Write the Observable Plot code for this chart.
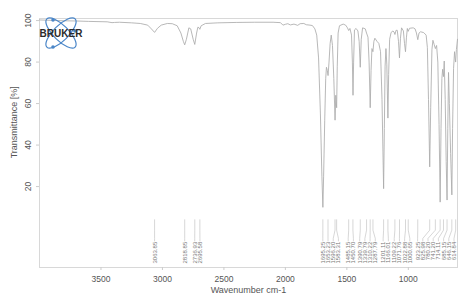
<!DOCTYPE html>
<html>
<head>
<meta charset="utf-8">
<script src="https://cdn.jsdelivr.net/npm/d3@7"></script>
<script src="https://cdn.jsdelivr.net/npm/@observablehq/plot@0.6"></script>
<style>
  html, body { margin: 0; padding: 0; background: #fff; }
  #chart { width: 474px; height: 308px; }
</style>
</head>
<body>
<div id="chart"></div>
<script>
// ---- Data ----
const wavenumbers = [
  4000, 3900, 3800, 3700, 3600, 3450, 3410, 3390, 3350, 3250, 3180, 3120, 3090, 3064, 3040, 3010,
  2960, 2920, 2880, 2850, 2830, 2819, 2805, 2785, 2770, 2750, 2737, 2722, 2712, 2703, 2696, 2685,
  2650, 2550, 2400, 2250, 2100, 2040, 2020, 2000, 1980, 1960, 1930, 1900, 1880, 1850, 1830, 1800,
  1780, 1760, 1745, 1730, 1715, 1703, 1695, 1689, 1680, 1672, 1666, 1659, 1653, 1645, 1636, 1627,
  1617, 1606, 1596, 1590, 1583, 1578, 1571, 1560, 1530, 1510, 1495, 1485, 1475, 1462, 1455, 1450,
  1445, 1438, 1425, 1410, 1400, 1391, 1383, 1372, 1350, 1340, 1328, 1319, 1310, 1303, 1296, 1292,
  1288, 1280, 1272, 1255, 1240, 1226, 1214, 1201, 1195, 1189, 1182, 1175, 1166, 1160, 1152, 1140,
  1125, 1116, 1109, 1100, 1090, 1080, 1072, 1064, 1055, 1040, 1031, 1023, 1015, 1008, 1001, 990,
  960, 945, 934, 923, 913, 900, 875, 855, 845, 836, 826, 818, 808, 800, 790, 780,
  770, 760, 750, 741, 734, 727, 721, 714, 708, 700, 692, 685, 679, 673, 666, 656,
  646, 640, 632, 624, 619, 615, 609, 600
];
const transmittance = [
  100.3, 100.1, 99.9, 99.8, 99.6, 99.4, 99.0, 99.1, 99.2, 98.9, 98.6, 97.8, 96.0, 94.3, 96.3, 97.8,
  98.6, 98.5, 97.5, 94.0, 90.0, 88.3, 91.0, 96.5, 96.0, 91.0, 88.5, 94.0, 96.8, 96.6, 95.8, 97.5,
  98.6, 98.9, 99.1, 99.2, 99.2, 99.0, 97.8, 98.2, 98.5, 97.9, 98.3, 97.7, 98.5, 98.6, 98.0, 97.8,
  97.6, 96.0, 93.0, 82.0, 55.0, 25.0, 10.0, 25.0, 52.0, 72.0, 77.5, 76.0, 73.5, 80.0, 89.0, 93.0,
  88.0, 72.0, 52.0, 64.0, 58.0, 78.0, 94.0, 97.5, 98.3, 97.8, 96.5, 95.2, 96.2, 93.0, 80.0, 64.0,
  80.0, 95.5, 96.2, 95.0, 90.0, 77.5, 91.0, 96.5, 96.0, 94.0, 92.0, 80.0, 58.0, 76.0, 86.5, 86.0,
  85.0, 90.0, 91.5, 90.0, 89.0, 85.0, 62.0, 19.0, 48.0, 78.0, 86.5, 79.0, 53.0, 74.0, 91.0, 94.3,
  95.0, 94.5, 93.3, 95.3, 95.3, 90.0, 82.0, 91.5, 96.5, 95.0, 89.0, 85.0, 92.0, 96.2, 94.8, 96.3,
  96.5, 96.0, 94.0, 90.8, 94.0, 94.6, 94.2, 93.0, 87.0, 62.0, 29.5, 58.0, 86.0, 90.5, 88.5, 86.5,
  88.0, 80.0, 50.0, 12.5, 48.0, 72.0, 76.5, 73.0, 80.5, 62.0, 32.0, 13.5, 48.0, 75.0, 60.0, 36.0,
  16.0, 48.0, 77.0, 85.0, 82.0, 80.0, 86.0, 91.0
];
const peakWavenumbers = [
  3063.85, 2818.85, 2736.93, 2695.58,
  1695.25, 1653.23, 1596.20, 1583.31,
  1485.15, 1450.70, 1390.79, 1339.79, 1310.22, 1287.79, 1201.11, 1166.01, 1109.22, 1071.76, 1022.88, 1000.65,
  923.25, 825.98, 780.20, 741.20, 714.11, 685.15, 646.15, 614.84
];
const xTicks = [3500, 3000, 2500, 2000, 1500, 1000];
const yTicks = [20, 40, 60, 80, 100];
const xLabel = "Wavenumber cm-1";
const yLabel = "Transmittance [%]";

// ---- Layout ----
const W = 474, H = 308;
const mL = 39, mR = 17, mT = 18, mB = 41;
const xDomain = [4000, 600];
const yDomain = [-19, 101];

// Spread peak labels so they don't overlap (in pixel space, via the x scale)
const xs = Plot.scale({x: {domain: xDomain, range: [mL, W - mR]}});
function dodge(px, gap, lo, hi) {
  let clusters = px.map((p, i) => ({i0: i, n: 1, sum: p}));
  const place = c => {
    let left = c.sum / c.n - (c.n - 1) * gap / 2;
    left = Math.max(lo, Math.min(hi - (c.n - 1) * gap, left));
    c.left = left; c.right = left + (c.n - 1) * gap;
  };
  clusters.forEach(place);
  let merged = true;
  while (merged) {
    merged = false;
    for (let k = 0; k < clusters.length - 1; k++) {
      const a = clusters[k], b = clusters[k + 1];
      if (b.left < a.right + gap) {
        a.n += b.n; a.sum += b.sum; place(a);
        clusters.splice(k + 1, 1);
        merged = true; break;
      }
    }
  }
  const out = [];
  clusters.forEach(c => { for (let j = 0; j < c.n; j++) out.push(c.left + j * gap); });
  return out;
}
const peakPx = peakWavenumbers.map(w => xs.apply(w));
const labelPx = dodge(peakPx, 5.2, mL + 3, W - mR - 3.5);
const peaks = peakWavenumbers.map((w, i) => ({w, lw: xs.invert(labelPx[i]), text: d3.format(".2f")(w)}));
const leaders = peaks.flatMap((p, i) => [
  {id: i, w: p.w, t: 4},
  {id: i, w: p.w, t: -1},
  {id: i, w: p.lw, t: -5},
  {id: i, w: p.lw, t: -6.2}
]);

const idx = d3.range(wavenumbers.length);
const font = "'Liberation Sans', Arial, Helvetica, sans-serif";

const svg = Plot.plot({
  width: W, height: H,
  marginLeft: mL, marginRight: mR, marginTop: mT, marginBottom: mB,
  style: {fontFamily: font, background: "#fff", color: "#555"},
  x: {domain: xDomain},
  y: {domain: yDomain},
  marks: [
    Plot.frame({stroke: "#d8d8d8", strokeWidth: 1}),
    Plot.axisX({ticks: xTicks, tickSize: 3, tickFormat: () => "", label: null, stroke: "#cccccc"}),
    Plot.axisY({ticks: yTicks, tickSize: 3, tickFormat: () => "", label: null, stroke: "#cccccc"}),
    Plot.text(xTicks, {x: d => d, frameAnchor: "bottom", dy: 14.5, text: d => String(d), fontSize: 8.5, fill: "#555"}),
    Plot.text(yTicks, {y: d => d, frameAnchor: "left", dx: -11.5, rotate: -90, textAnchor: "middle", text: d => String(d), fontSize: 8.5, fill: "#555"}),
    Plot.text([xLabel], {frameAnchor: "bottom", dy: 25, text: d => d, fontSize: 9, fill: "#555"}),
    Plot.text([yLabel], {y: [51], frameAnchor: "left", dx: -25, rotate: -90, textAnchor: "middle", text: d => d, fontSize: 9, fill: "#555"}),
    Plot.line(leaders, {x: "w", y: "t", z: "id", stroke: "#bcbcbc", strokeWidth: 0.6}),
    Plot.text(peaks, {x: "lw", y: -6.6, text: "text", rotate: -90, textAnchor: "end", fontSize: 6, fill: "#777"}),
    Plot.line(idx, {x: i => wavenumbers[i], y: i => transmittance[i], stroke: "#ababab", strokeWidth: 0.85})
  ]
});

// Bruker logo (decoration)
const g = d3.select(svg).append("g").attr("transform", "translate(61,33)");
[45, -45].forEach(a => g.append("ellipse")
  .attr("rx", 20).attr("ry", 7.5).attr("transform", `rotate(${a})`)
  .attr("fill", "none").attr("stroke", "#4a86c8").attr("stroke-width", 1.2));
[[-8, -13], [-8, 14], [14, -2]].forEach(([cx, cy]) => g.append("circle")
  .attr("cx", cx).attr("cy", cy).attr("r", 1.8).attr("fill", "#4a86c8"));
g.append("text").text("BRUKER").attr("x", 0).attr("y", 4)
  .attr("text-anchor", "middle").attr("font-family", font).attr("font-weight", "bold")
  .attr("font-size", 10).attr("fill", "#2a2a2a");

document.getElementById("chart").appendChild(svg);
</script>
</body>
</html>
